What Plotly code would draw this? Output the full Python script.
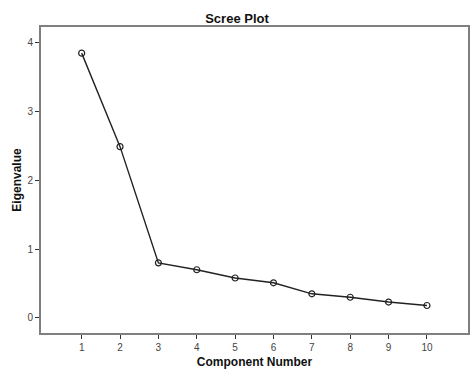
import plotly.graph_objects as go

components = [1, 2, 3, 4, 5, 6, 7, 8, 9, 10]
eigenvalues = [3.85, 2.49, 0.80, 0.70, 0.58, 0.51, 0.35, 0.30, 0.23, 0.18]
y_ticks = [0, 1, 2, 3, 4]

FONT = "Arial, Liberation Sans, sans-serif"

fig = go.Figure()
fig.add_trace(go.Scatter(
    x=components, y=eigenvalues, mode="lines+markers",
    line=dict(color="#222222", width=1.4),
    marker=dict(symbol="circle-open", size=6, color="#222222", line=dict(width=1.2)),
    showlegend=False,
))

fig.update_layout(
    width=474, height=379,
    margin=dict(l=41, r=6, t=27, b=46),
    paper_bgcolor="white", plot_bgcolor="white",
    font=dict(family=FONT, color="#333333"),
    title=dict(text="<b>Scree Plot</b>", x=0.5, xanchor="center", xref="container",
               y=1 - 18 / 379, yref="container", yanchor="middle",
               font=dict(size=13, color="#111111", family=FONT)),
)
fig.update_xaxes(
    range=[-0.06, 11.07], tickmode="array", tickvals=components,
    ticks="outside", ticklen=4, tickwidth=1, tickcolor="#333333",
    tickfont=dict(size=10, color="#444444"),
    showgrid=False, zeroline=False, automargin=False,
    showline=True, linecolor="#7f7f7f", linewidth=2, mirror=True,
    title=dict(text="<b>Component Number</b>", font=dict(size=12, color="#111111"), standoff=6),
)
fig.update_yaxes(
    range=[-0.22, 4.23], tickmode="array", tickvals=y_ticks,
    ticks="outside", ticklen=4, tickwidth=1, tickcolor="#333333",
    tickfont=dict(size=10, color="#444444"),
    showgrid=False, zeroline=False, automargin=False,
    showline=True, linecolor="#7f7f7f", linewidth=2, mirror=True,
    title=dict(text="<b>Eigenvalue</b>", font=dict(size=12, color="#111111"), standoff=3),
)

fig.write_html("out.html", config={"displayModeBar": False},
               post_script="document.body.style.margin='0';")
